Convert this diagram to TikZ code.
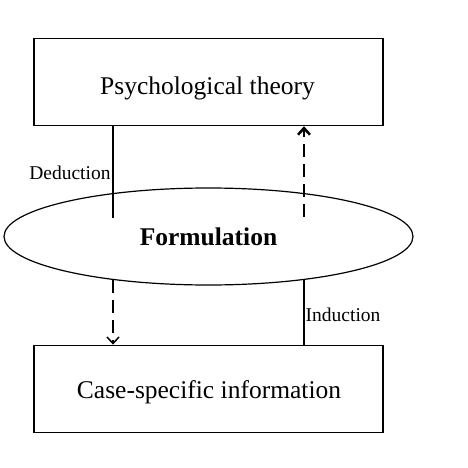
\documentclass[tikz,border=0pt]{standalone}
\usepackage{fontspec}
\setmainfont{Liberation Serif}
\usetikzlibrary{shapes.geometric,arrows.meta}
\begin{document}
\begin{tikzpicture}[x=1pt,y=-1pt,
  boxstyle/.style={draw, line width=1.2pt, minimum width=349pt, minimum height=87.4pt, inner sep=0pt},
  bigtext/.style={font=\fontsize{25.5}{30}\selectfont, inner sep=0pt, anchor=base},
  smalltext/.style={font=\fontsize{19.5}{23}\selectfont, inner sep=0pt, anchor=base},
  thinline/.style={line width=1.5pt},
  thickline/.style={line width=2.6pt},
  dashline/.style={dash pattern=on 13pt off 7pt},
  barb/.style={-{Straight Barb[length=6.5pt,width=12pt]}}
]
\useasboundingbox (0,0) rectangle (468,468);
\fill[white] (0,0) rectangle (468,468);
\node[boxstyle] (theory) at (208.5,82) {};
\node[bigtext] (theorytxt) at (207.5,95) {Psychological theory};
\node[boxstyle] (case) at (208.5,388.9) {};
\node[bigtext] (casetxt) at (209,398.3) {Case-specific information};
\node[draw, ellipse, line width=1.2pt, minimum width=409pt, minimum height=97pt, inner sep=0pt] (form) at (208.5,236.5) {};
\node[bigtext, font=\fontsize{25.5}{30}\selectfont\bfseries] (formtxt) at (208.5,245.7) {Formulation};
\coordinate (dedend) at (113,218);
\coordinate (upstart) at (304,216.5);
\coordinate (downstart) at (113,280);
\coordinate (indend) at (304,278.5);
\draw[thinline] (theory.south -| dedend) -- (dedend);
\draw[thickline, dashline, barb] (upstart) -- (theory.south -| upstart);
\draw[thinline, dashline, barb] (downstart) -- (case.north -| downstart);
\draw[thickline] (case.north -| indend) -- (indend);
\node[smalltext, anchor=base east] (ded) at (110.7,179.5) {Deduction};
\node[smalltext, anchor=base west] (ind) at (305.5,321) {Induction};
\end{tikzpicture}
\end{document}
